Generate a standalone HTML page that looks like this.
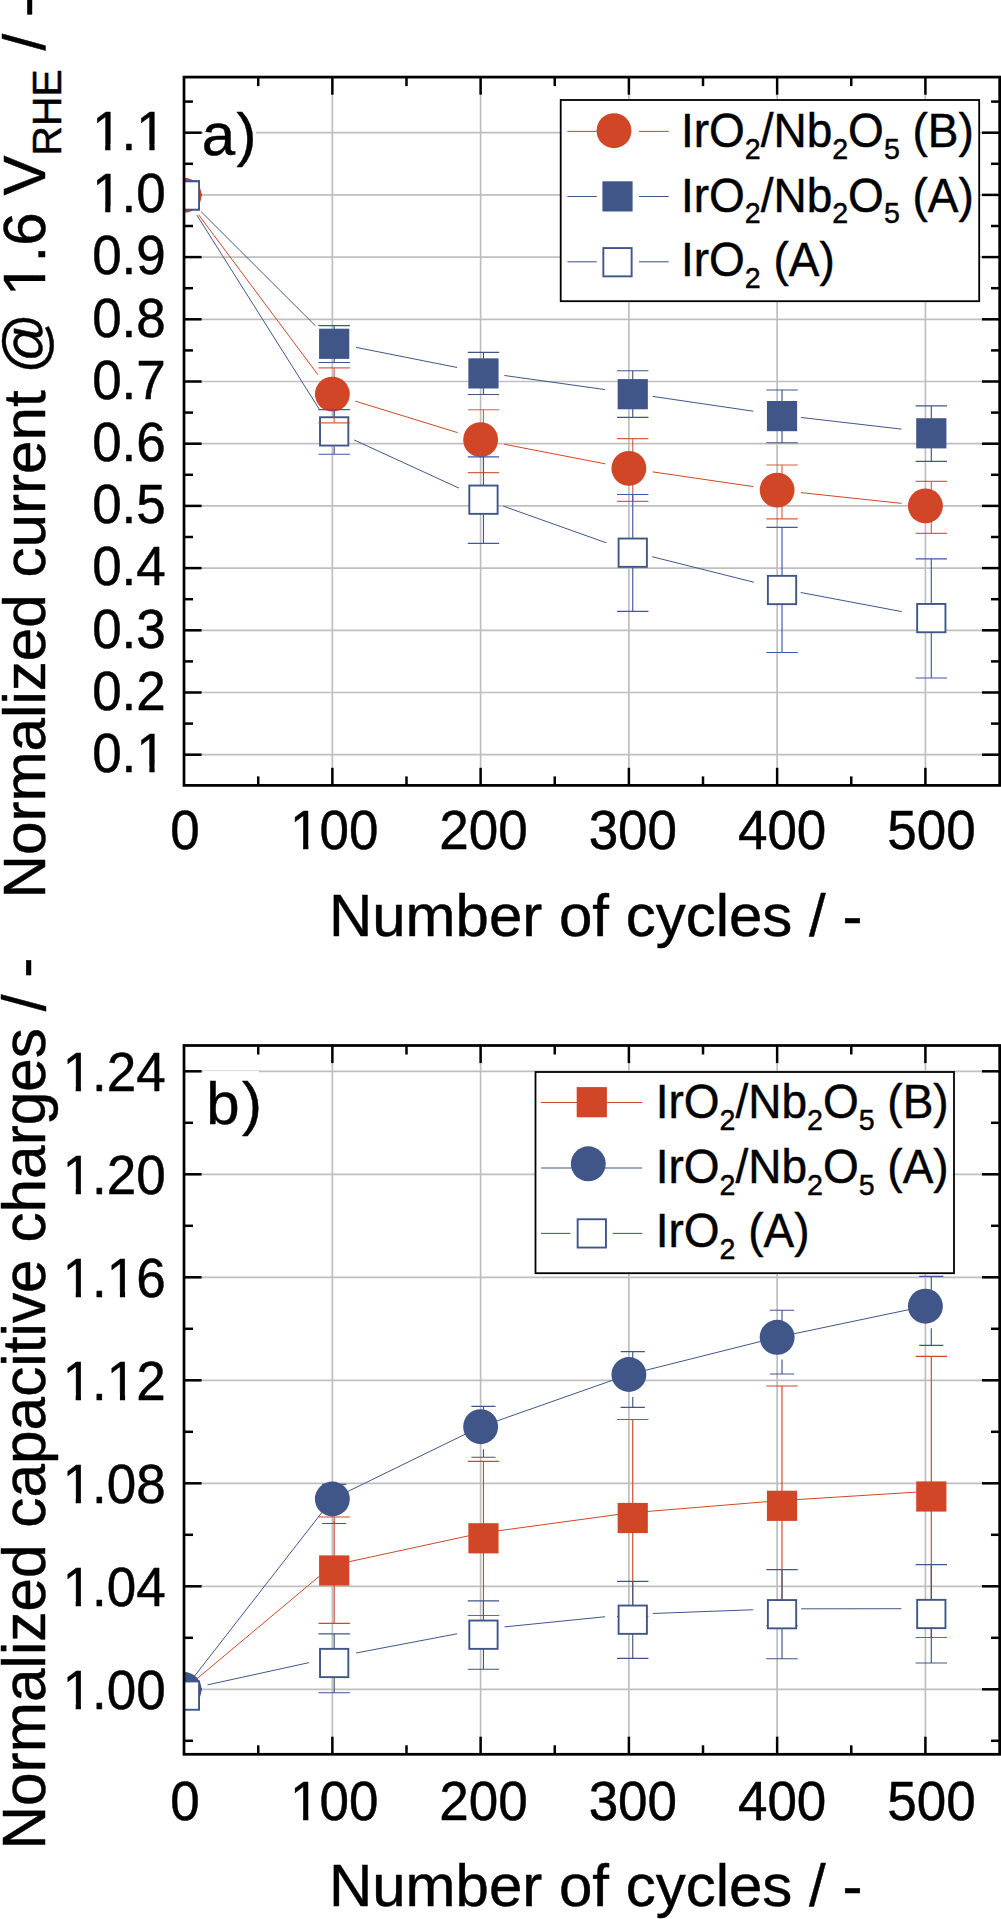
<!DOCTYPE html>
<html lang="en"><head><meta charset="utf-8"><title>Normalized current and capacitive charges vs. number of cycles</title>
<style>html,body{margin:0;padding:0;background:#fff}svg{display:block}text{font-family:'Liberation Sans', sans-serif;fill:#000;stroke:#000;stroke-width:0.45px;stroke-linejoin:round}</style></head><body>
<svg width="1001" height="1919" viewBox="0 0 1001 1919">
<rect width="1001" height="1919" fill="#fff"/>
<defs><clipPath id="ca"><rect x="184" y="77" width="817" height="708"/></clipPath><clipPath id="cb"><rect x="184" y="1045.5" width="817" height="708.3"/></clipPath><clipPath id="ct0"><path d="M-3000 -3000H3000V-5.66H-3000ZM-3000 -5.71H-26.86V100H-3000ZM-16.4 -5.71H-11.22V100H-16.4ZM-1.17 -5.71H3000V100H-1.17Z"/></clipPath><clipPath id="ct1"><path d="M-3000 -3000H3000V-5.66H-3000ZM-3000 -5.71H-71.04V100H-3000ZM-60.59 -5.71H-55.4V100H-60.59ZM-45.36 -5.71H3000V100H-45.36Z"/></clipPath><clipPath id="ct2"><path d="M-3000 -3000H3000V-5.66H-3000ZM-3000 -5.71H-71.04V100H-3000ZM-60.59 -5.71H-55.4V100H-60.59ZM-45.36 -5.71H-26.86V100H-45.36ZM-16.4 -5.71H-11.22V100H-16.4ZM-1.17 -5.71H3000V100H-1.17Z"/></clipPath><clipPath id="ct3"><path d="M-3000 -3000H3000V-5.66H-3000ZM-3000 -5.71H-41.58V100H-3000ZM-31.13 -5.71H-25.94V100H-31.13ZM-15.9 -5.71H3000V100H-15.9Z"/></clipPath><clipPath id="ct4"><path d="M-3000 -3000H3000V-6.2H-3000ZM-3000 -6.25H605.6V100H-3000ZM617.37 -6.25H623.19V100H617.37ZM634.48 -6.25H3000V100H634.48Z"/></clipPath><clipPath id="ct5"><path d="M-3000 -3000H3000V-5.66H-3000ZM-3000 -5.71H-100.53V100H-3000ZM-90.07 -5.71H-84.89V100H-90.07ZM-74.84 -5.71H3000V100H-74.84Z"/></clipPath><clipPath id="ct6"><path d="M-3000 -3000H3000V-5.66H-3000ZM-3000 -5.71H-100.53V100H-3000ZM-90.07 -5.71H-84.89V100H-90.07ZM-74.84 -5.71H3000V100H-74.84Z"/></clipPath><clipPath id="ct7"><path d="M-3000 -3000H3000V-5.66H-3000ZM-3000 -5.71H-100.53V100H-3000ZM-90.07 -5.71H-84.89V100H-90.07ZM-74.84 -5.71H3000V100H-74.84Z"/></clipPath><clipPath id="ct8"><path d="M-3000 -3000H3000V-5.66H-3000ZM-3000 -5.71H-100.53V100H-3000ZM-90.07 -5.71H-84.89V100H-90.07ZM-74.84 -5.71H-56.34V100H-74.84ZM-45.88 -5.71H-40.7V100H-45.88ZM-30.66 -5.71H3000V100H-30.66Z"/></clipPath><clipPath id="ct9"><path d="M-3000 -3000H3000V-5.66H-3000ZM-3000 -5.71H-100.53V100H-3000ZM-90.07 -5.71H-84.89V100H-90.07ZM-74.84 -5.71H-56.34V100H-74.84ZM-45.88 -5.71H-40.7V100H-45.88ZM-30.66 -5.71H3000V100H-30.66Z"/></clipPath><clipPath id="ct10"><path d="M-3000 -3000H3000V-5.66H-3000ZM-3000 -5.71H-100.53V100H-3000ZM-90.07 -5.71H-84.89V100H-90.07ZM-74.84 -5.71H3000V100H-74.84Z"/></clipPath><clipPath id="ct11"><path d="M-3000 -3000H3000V-5.66H-3000ZM-3000 -5.71H-100.53V100H-3000ZM-90.07 -5.71H-84.89V100H-90.07ZM-74.84 -5.71H3000V100H-74.84Z"/></clipPath><clipPath id="ct12"><path d="M-3000 -3000H3000V-5.66H-3000ZM-3000 -5.71H-41.58V100H-3000ZM-31.13 -5.71H-25.94V100H-31.13ZM-15.9 -5.71H3000V100H-15.9Z"/></clipPath></defs>
<g stroke="#bfbfbf" stroke-width="1.7" fill="none">
<line x1="184" y1="754.7" x2="999.7" y2="754.7"/>
<line x1="184" y1="692.5" x2="999.7" y2="692.5"/>
<line x1="184" y1="630.3" x2="999.7" y2="630.3"/>
<line x1="184" y1="568.1" x2="999.7" y2="568.1"/>
<line x1="184" y1="505.9" x2="999.7" y2="505.9"/>
<line x1="184" y1="443.7" x2="999.7" y2="443.7"/>
<line x1="184" y1="381.5" x2="999.7" y2="381.5"/>
<line x1="184" y1="319.3" x2="999.7" y2="319.3"/>
<line x1="184" y1="257.1" x2="999.7" y2="257.1"/>
<line x1="184" y1="194.9" x2="999.7" y2="194.9"/>
<line x1="184" y1="132.7" x2="999.7" y2="132.7"/>
<line x1="332.36" y1="77.1" x2="332.36" y2="785.4"/>
<line x1="480.62" y1="77.1" x2="480.62" y2="785.4"/>
<line x1="628.88" y1="77.1" x2="628.88" y2="785.4"/>
<line x1="777.14" y1="77.1" x2="777.14" y2="785.4"/>
<line x1="925.4" y1="77.1" x2="925.4" y2="785.4"/>
</g>
<rect x="203" y="105" width="53" height="67" fill="#fff"/>
<g stroke="#000" stroke-width="2.5" fill="none">
<line x1="184" y1="754.7" x2="201.6" y2="754.7"/>
<line x1="999.7" y1="754.7" x2="982" y2="754.7"/>
<line x1="184" y1="692.5" x2="201.6" y2="692.5"/>
<line x1="999.7" y1="692.5" x2="982" y2="692.5"/>
<line x1="184" y1="630.3" x2="201.6" y2="630.3"/>
<line x1="999.7" y1="630.3" x2="982" y2="630.3"/>
<line x1="184" y1="568.1" x2="201.6" y2="568.1"/>
<line x1="999.7" y1="568.1" x2="982" y2="568.1"/>
<line x1="184" y1="505.9" x2="201.6" y2="505.9"/>
<line x1="999.7" y1="505.9" x2="982" y2="505.9"/>
<line x1="184" y1="443.7" x2="201.6" y2="443.7"/>
<line x1="999.7" y1="443.7" x2="982" y2="443.7"/>
<line x1="184" y1="381.5" x2="201.6" y2="381.5"/>
<line x1="999.7" y1="381.5" x2="982" y2="381.5"/>
<line x1="184" y1="319.3" x2="201.6" y2="319.3"/>
<line x1="999.7" y1="319.3" x2="982" y2="319.3"/>
<line x1="184" y1="257.1" x2="201.6" y2="257.1"/>
<line x1="999.7" y1="257.1" x2="982" y2="257.1"/>
<line x1="184" y1="194.9" x2="201.6" y2="194.9"/>
<line x1="999.7" y1="194.9" x2="982" y2="194.9"/>
<line x1="184" y1="132.7" x2="201.6" y2="132.7"/>
<line x1="999.7" y1="132.7" x2="982" y2="132.7"/>
<line x1="184" y1="723.6" x2="193" y2="723.6"/>
<line x1="999.7" y1="723.6" x2="991" y2="723.6"/>
<line x1="184" y1="661.4" x2="193" y2="661.4"/>
<line x1="999.7" y1="661.4" x2="991" y2="661.4"/>
<line x1="184" y1="599.2" x2="193" y2="599.2"/>
<line x1="999.7" y1="599.2" x2="991" y2="599.2"/>
<line x1="184" y1="537" x2="193" y2="537"/>
<line x1="999.7" y1="537" x2="991" y2="537"/>
<line x1="184" y1="474.8" x2="193" y2="474.8"/>
<line x1="999.7" y1="474.8" x2="991" y2="474.8"/>
<line x1="184" y1="412.6" x2="193" y2="412.6"/>
<line x1="999.7" y1="412.6" x2="991" y2="412.6"/>
<line x1="184" y1="350.4" x2="193" y2="350.4"/>
<line x1="999.7" y1="350.4" x2="991" y2="350.4"/>
<line x1="184" y1="288.2" x2="193" y2="288.2"/>
<line x1="999.7" y1="288.2" x2="991" y2="288.2"/>
<line x1="184" y1="226" x2="193" y2="226"/>
<line x1="999.7" y1="226" x2="991" y2="226"/>
<line x1="184" y1="163.8" x2="193" y2="163.8"/>
<line x1="999.7" y1="163.8" x2="991" y2="163.8"/>
<line x1="184" y1="101.6" x2="193" y2="101.6"/>
<line x1="999.7" y1="101.6" x2="991" y2="101.6"/>
<line x1="332.36" y1="77.1" x2="332.36" y2="94.7"/>
<line x1="332.36" y1="785.4" x2="332.36" y2="767.8"/>
<line x1="480.62" y1="77.1" x2="480.62" y2="94.7"/>
<line x1="480.62" y1="785.4" x2="480.62" y2="767.8"/>
<line x1="628.88" y1="77.1" x2="628.88" y2="94.7"/>
<line x1="628.88" y1="785.4" x2="628.88" y2="767.8"/>
<line x1="777.14" y1="77.1" x2="777.14" y2="94.7"/>
<line x1="777.14" y1="785.4" x2="777.14" y2="767.8"/>
<line x1="925.4" y1="77.1" x2="925.4" y2="94.7"/>
<line x1="925.4" y1="785.4" x2="925.4" y2="767.8"/>
<line x1="258.23" y1="77.1" x2="258.23" y2="86.1"/>
<line x1="258.23" y1="785.4" x2="258.23" y2="776.4"/>
<line x1="406.49" y1="77.1" x2="406.49" y2="86.1"/>
<line x1="406.49" y1="785.4" x2="406.49" y2="776.4"/>
<line x1="554.75" y1="77.1" x2="554.75" y2="86.1"/>
<line x1="554.75" y1="785.4" x2="554.75" y2="776.4"/>
<line x1="703.01" y1="77.1" x2="703.01" y2="86.1"/>
<line x1="703.01" y1="785.4" x2="703.01" y2="776.4"/>
<line x1="851.27" y1="77.1" x2="851.27" y2="86.1"/>
<line x1="851.27" y1="785.4" x2="851.27" y2="776.4"/>
</g>
<g clip-path="url(#ca)">
<g stroke="#d14627" stroke-width="1.0" fill="none">
<line x1="198.45" y1="214.54" x2="318.01" y2="374.86"/>
<line x1="355.3" y1="401.16" x2="457.68" y2="432.64"/>
<line x1="504.18" y1="444.26" x2="605.32" y2="463.84"/>
<line x1="652.63" y1="471.88" x2="753.39" y2="486.62"/>
<line x1="801" y1="492.64" x2="901.54" y2="503.36"/>
</g>
<circle cx="184.1" cy="195.3" r="17.45" fill="#d14627"/>
<circle cx="332.36" cy="394.1" r="17.45" fill="#d14627"/>
<circle cx="480.62" cy="439.7" r="17.45" fill="#d14627"/>
<circle cx="628.88" cy="468.4" r="17.45" fill="#d14627"/>
<circle cx="777.14" cy="490.1" r="17.45" fill="#d14627"/>
<circle cx="925.4" cy="505.9" r="17.45" fill="#d14627"/>
<g stroke="#405688" stroke-width="1.15" fill="none">
<path d="M318.48 325.6H349.88M318.48 362.5H349.88M334.18 325.6V362.5"/>
<path d="M467.76 352.4H499.16M467.76 394.5H499.16M483.46 352.4V394.5"/>
<path d="M617.04 370.7H648.44M617.04 417.4H648.44M632.74 370.7V417.4"/>
<path d="M766.32 390H797.72M766.32 442.7H797.72M782.02 390V442.7"/>
<path d="M915.6 405.9H947M915.6 461.4H947M931.3 405.9V461.4"/>
</g>
<g stroke="#405688" stroke-width="1.0" fill="none">
<line x1="201.08" y1="211.61" x2="315.38" y2="325.71"/>
<line x1="355.9" y1="347.35" x2="457.08" y2="367.48"/>
<line x1="504.39" y1="375.49" x2="605.11" y2="389.58"/>
<line x1="652.62" y1="396.39" x2="753.4" y2="411.23"/>
<line x1="800.98" y1="417.48" x2="901.56" y2="429.11"/>
</g>
<rect x="169.8" y="180.2" width="30.2" height="30.2" fill="#405688"/>
<rect x="319.08" y="328.7" width="30.2" height="30.2" fill="#405688"/>
<rect x="468.36" y="358.3" width="30.2" height="30.2" fill="#405688"/>
<rect x="617.64" y="379.1" width="30.2" height="30.2" fill="#405688"/>
<rect x="766.92" y="401" width="30.2" height="30.2" fill="#405688"/>
<rect x="916.2" y="418.2" width="30.2" height="30.2" fill="#405688"/>
<g stroke="#405688" stroke-width="1.0" fill="none">
<line x1="196.9" y1="215.16" x2="319.56" y2="409.68"/>
<line x1="354.17" y1="439.99" x2="458.81" y2="488.04"/>
<line x1="503.23" y1="506.11" x2="606.27" y2="542.82"/>
<line x1="652.16" y1="556.71" x2="753.86" y2="582.22"/>
<line x1="800.72" y1="592.51" x2="901.82" y2="611.61"/>
</g>
<rect x="170.75" y="181.35" width="28.3" height="28.3" fill="#fff" stroke="#405688" stroke-width="1.9"/>
<rect x="320.03" y="417.25" width="28.3" height="28.3" fill="#fff" stroke="#405688" stroke-width="1.9"/>
<rect x="469.31" y="485.55" width="28.3" height="28.3" fill="#fff" stroke="#405688" stroke-width="1.9"/>
<rect x="618.59" y="538.55" width="28.3" height="28.3" fill="#fff" stroke="#405688" stroke-width="1.9"/>
<rect x="767.87" y="575.85" width="28.3" height="28.3" fill="#fff" stroke="#405688" stroke-width="1.9"/>
<rect x="917.15" y="603.95" width="28.3" height="28.3" fill="#fff" stroke="#405688" stroke-width="1.9"/>
<g opacity="0.85" stroke="#d14627" stroke-width="1.15" fill="none">
<path d="M318.48 367.9H349.88M318.48 422.9H349.88M334.18 367.9V377.35M334.18 410.85V422.9"/>
<path d="M467.76 409.7H499.16M467.76 472.6H499.16M483.46 409.7V423.08M483.46 456.32V472.6"/>
<path d="M617.04 438.6H648.44M617.04 501.4H648.44M632.74 438.6V451.98M632.74 484.82V501.4"/>
<path d="M766.32 465H797.72M766.32 518.9H797.72M782.02 465V473.95M782.02 506.25V518.9"/>
<path d="M915.6 481.3H947M915.6 533.4H947M931.3 481.3V490.08M931.3 521.72V533.4"/>
</g>
<g stroke="#3e57aa" stroke-width="1.15" fill="none">
<path d="M318.48 409.6H349.88M318.48 454.2H349.88M334.18 409.6V417.3M334.18 446.5V454.2"/>
<path d="M467.76 456.8H499.16M467.76 543.3H499.16M483.46 456.8V485.45M483.46 514.65V543.3"/>
<path d="M617.04 494.5H648.44M617.04 611.3H648.44M632.74 494.5V538.3M632.74 567.5V611.3"/>
<path d="M766.32 527.3H797.72M766.32 652.5H797.72M782.02 527.3V575.3M782.02 604.5V652.5"/>
<path d="M915.6 558.8H947M915.6 678H947M931.3 558.8V603.8M931.3 633V678"/>
</g>
</g>
<rect x="560.7" y="100" width="418.5" height="201.2" fill="#fff" stroke="#000" stroke-width="1.8"/>
<g stroke="#d14627" stroke-width="1.05">
<line x1="567.4" y1="131.4" x2="596.75" y2="131.4"/>
<line x1="639.05" y1="131.4" x2="668.7" y2="131.4"/>
</g>
<circle cx="614" cy="130.7" r="17.45" fill="#d14627"/>
<text transform="translate(680.9 147.2) scale(1 1.04)" font-size="46">IrO<tspan font-size="28.6" dy="11.5">2</tspan><tspan dy="-11.5">/Nb</tspan><tspan font-size="28.6" dy="11.5">2</tspan><tspan dy="-11.5">O</tspan><tspan font-size="28.6" dy="11.5">5</tspan><tspan dy="-11.5"> (B)</tspan></text>
<g stroke="#405688" stroke-width="1.05">
<line x1="567.4" y1="196.5" x2="596.75" y2="196.5"/>
<line x1="639.05" y1="196.5" x2="668.7" y2="196.5"/>
</g>
<rect x="602.4" y="181.3" width="30.2" height="30.2" fill="#405688"/>
<text transform="translate(680.9 211.5) scale(1 1.04)" font-size="46">IrO<tspan font-size="28.6" dy="11.5">2</tspan><tspan dy="-11.5">/Nb</tspan><tspan font-size="28.6" dy="11.5">2</tspan><tspan dy="-11.5">O</tspan><tspan font-size="28.6" dy="11.5">5</tspan><tspan dy="-11.5"> (A)</tspan></text>
<g stroke="#405688" stroke-width="1.05">
<line x1="567.4" y1="261.8" x2="596.75" y2="261.8"/>
<line x1="639.05" y1="261.8" x2="668.7" y2="261.8"/>
</g>
<rect x="603.35" y="248.05" width="28.3" height="28.3" fill="#fff" stroke="#405688" stroke-width="1.9"/>
<text transform="translate(680.9 275.8) scale(1 1.04)" font-size="46">IrO<tspan font-size="28.6" dy="11.5">2</tspan><tspan dy="-11.5"> (A)</tspan></text>
<rect x="184" y="77.1" width="815.7" height="708.3" fill="none" stroke="#000" stroke-width="2.75"/>
<g font-size="53" text-anchor="end">
<text id="t0" clip-path="url(#ct0)" transform="translate(165.8 772) scale(1 1.04)">0.1</text>
<text transform="translate(165.8 709.8) scale(1 1.04)">0.2</text>
<text transform="translate(165.8 647.6) scale(1 1.04)">0.3</text>
<text transform="translate(165.8 585.4) scale(1 1.04)">0.4</text>
<text transform="translate(165.8 523.2) scale(1 1.04)">0.5</text>
<text transform="translate(165.8 461) scale(1 1.04)">0.6</text>
<text transform="translate(165.8 398.8) scale(1 1.04)">0.7</text>
<text transform="translate(165.8 336.6) scale(1 1.04)">0.8</text>
<text transform="translate(165.8 274.4) scale(1 1.04)">0.9</text>
<text id="t1" clip-path="url(#ct1)" transform="translate(165.8 212.2) scale(1 1.04)">1.0</text>
<text id="t2" clip-path="url(#ct2)" transform="translate(165.8 150) scale(1 1.04)">1.1</text>
</g>
<g font-size="53" text-anchor="middle">
<text transform="translate(185 848.8) scale(1 1.04)">0</text>
<text id="t3" clip-path="url(#ct3)" transform="translate(334.28 848.8) scale(1 1.04)">100</text>
<text transform="translate(483.56 848.8) scale(1 1.04)">200</text>
<text transform="translate(632.84 848.8) scale(1 1.04)">300</text>
<text transform="translate(782.12 848.8) scale(1 1.04)">400</text>
<text transform="translate(931.4 848.8) scale(1 1.04)">500</text>
</g>
<text x="328.9" y="935.5" font-size="60">Number of cycles / -</text>
<text x="201.8" y="155.3" font-size="60">a<tspan dx="1.2">)</tspan></text>
<text id="t4" clip-path="url(#ct4)" transform="translate(45.1 898.4) rotate(-90)" font-size="60.15">Normalized current @ 1.6 V<tspan font-size="40.8" dy="16">RHE</tspan><tspan dy="-16" dx="2.2"> / -</tspan></text>
<g stroke="#bfbfbf" stroke-width="1.7" fill="none">
<line x1="184" y1="1689.3" x2="999.7" y2="1689.3"/>
<line x1="184" y1="1586.3" x2="999.7" y2="1586.3"/>
<line x1="184" y1="1483.3" x2="999.7" y2="1483.3"/>
<line x1="184" y1="1380.3" x2="999.7" y2="1380.3"/>
<line x1="184" y1="1277.3" x2="999.7" y2="1277.3"/>
<line x1="184" y1="1174.3" x2="999.7" y2="1174.3"/>
<line x1="184" y1="1071.3" x2="999.7" y2="1071.3"/>
<line x1="332.36" y1="1045.5" x2="332.36" y2="1754.3"/>
<line x1="480.62" y1="1045.5" x2="480.62" y2="1754.3"/>
<line x1="628.88" y1="1045.5" x2="628.88" y2="1754.3"/>
<line x1="777.14" y1="1045.5" x2="777.14" y2="1754.3"/>
<line x1="925.4" y1="1045.5" x2="925.4" y2="1754.3"/>
</g>
<rect x="203" y="1071.1" width="56" height="68.9" fill="#fff"/>
<g stroke="#000" stroke-width="2.5" fill="none">
<line x1="184" y1="1689.3" x2="201.6" y2="1689.3"/>
<line x1="999.7" y1="1689.3" x2="982" y2="1689.3"/>
<line x1="184" y1="1586.3" x2="201.6" y2="1586.3"/>
<line x1="999.7" y1="1586.3" x2="982" y2="1586.3"/>
<line x1="184" y1="1483.3" x2="201.6" y2="1483.3"/>
<line x1="999.7" y1="1483.3" x2="982" y2="1483.3"/>
<line x1="184" y1="1380.3" x2="201.6" y2="1380.3"/>
<line x1="999.7" y1="1380.3" x2="982" y2="1380.3"/>
<line x1="184" y1="1277.3" x2="201.6" y2="1277.3"/>
<line x1="999.7" y1="1277.3" x2="982" y2="1277.3"/>
<line x1="184" y1="1174.3" x2="201.6" y2="1174.3"/>
<line x1="999.7" y1="1174.3" x2="982" y2="1174.3"/>
<line x1="184" y1="1071.3" x2="201.6" y2="1071.3"/>
<line x1="999.7" y1="1071.3" x2="982" y2="1071.3"/>
<line x1="184" y1="1740.8" x2="193" y2="1740.8"/>
<line x1="999.7" y1="1740.8" x2="991" y2="1740.8"/>
<line x1="184" y1="1637.8" x2="193" y2="1637.8"/>
<line x1="999.7" y1="1637.8" x2="991" y2="1637.8"/>
<line x1="184" y1="1534.8" x2="193" y2="1534.8"/>
<line x1="999.7" y1="1534.8" x2="991" y2="1534.8"/>
<line x1="184" y1="1431.8" x2="193" y2="1431.8"/>
<line x1="999.7" y1="1431.8" x2="991" y2="1431.8"/>
<line x1="184" y1="1328.8" x2="193" y2="1328.8"/>
<line x1="999.7" y1="1328.8" x2="991" y2="1328.8"/>
<line x1="184" y1="1225.8" x2="193" y2="1225.8"/>
<line x1="999.7" y1="1225.8" x2="991" y2="1225.8"/>
<line x1="184" y1="1122.8" x2="193" y2="1122.8"/>
<line x1="999.7" y1="1122.8" x2="991" y2="1122.8"/>
<line x1="332.36" y1="1045.5" x2="332.36" y2="1063.1"/>
<line x1="332.36" y1="1754.3" x2="332.36" y2="1736.7"/>
<line x1="480.62" y1="1045.5" x2="480.62" y2="1063.1"/>
<line x1="480.62" y1="1754.3" x2="480.62" y2="1736.7"/>
<line x1="628.88" y1="1045.5" x2="628.88" y2="1063.1"/>
<line x1="628.88" y1="1754.3" x2="628.88" y2="1736.7"/>
<line x1="777.14" y1="1045.5" x2="777.14" y2="1063.1"/>
<line x1="777.14" y1="1754.3" x2="777.14" y2="1736.7"/>
<line x1="925.4" y1="1045.5" x2="925.4" y2="1063.1"/>
<line x1="925.4" y1="1754.3" x2="925.4" y2="1736.7"/>
<line x1="258.23" y1="1045.5" x2="258.23" y2="1054.5"/>
<line x1="258.23" y1="1754.3" x2="258.23" y2="1745.3"/>
<line x1="406.49" y1="1045.5" x2="406.49" y2="1054.5"/>
<line x1="406.49" y1="1754.3" x2="406.49" y2="1745.3"/>
<line x1="554.75" y1="1045.5" x2="554.75" y2="1054.5"/>
<line x1="554.75" y1="1754.3" x2="554.75" y2="1745.3"/>
<line x1="703.01" y1="1045.5" x2="703.01" y2="1054.5"/>
<line x1="703.01" y1="1754.3" x2="703.01" y2="1745.3"/>
<line x1="851.27" y1="1045.5" x2="851.27" y2="1054.5"/>
<line x1="851.27" y1="1754.3" x2="851.27" y2="1745.3"/>
</g>
<g clip-path="url(#cb)">
<g stroke="#405688" stroke-width="1.15" fill="none">
<path d="M322.08 1484.3H346.28M322.08 1523.5H346.28M334.18 1484.3V1486.4M334.18 1521.4V1523.5"/>
<path d="M471.36 1406.3H495.56M471.36 1457.2H495.56M483.46 1406.3V1414.25M483.46 1449.25V1457.2"/>
<path d="M620.64 1351.6H644.84M620.64 1407.3H644.84M632.74 1351.6V1361.95M632.74 1396.95V1407.3"/>
<path d="M769.92 1310.2H794.12M769.92 1374H794.12M782.02 1310.2V1324.6M782.02 1359.6V1374"/>
<path d="M919.2 1276.4H943.4M919.2 1345.3H943.4M931.3 1276.4V1293.35M931.3 1328.35V1345.3"/>
</g>
<g stroke="#d14627" stroke-width="1.15" fill="none">
<path d="M318.48 1517H349.88M318.48 1623.3H349.88M334.18 1517V1623.3"/>
<path d="M467.76 1461.3H499.16M467.76 1615.5H499.16M483.46 1461.3V1615.5"/>
<path d="M617.04 1419.5H648.44M617.04 1616.5H648.44M632.74 1419.5V1616.5"/>
<path d="M766.32 1386H797.72M766.32 1625.6H797.72M782.02 1386V1625.6"/>
<path d="M915.6 1356.3H947M915.6 1637.5H947M931.3 1356.3V1637.5"/>
</g>
<g stroke="#d14627" stroke-width="1.0" fill="none">
<line x1="184.1" y1="1689.5" x2="332.36" y2="1565.32"/>
<line x1="332.36" y1="1565.32" x2="480.62" y2="1533.22"/>
<line x1="480.62" y1="1533.22" x2="628.88" y2="1512.99"/>
<line x1="628.88" y1="1512.99" x2="777.14" y2="1500.83"/>
<line x1="777.14" y1="1500.83" x2="925.4" y2="1491.56"/>
</g>
<rect x="319.08" y="1555.4" width="30.2" height="30.2" fill="#d14627"/>
<rect x="468.36" y="1523.2" width="30.2" height="30.2" fill="#d14627"/>
<rect x="617.64" y="1502.9" width="30.2" height="30.2" fill="#d14627"/>
<rect x="766.92" y="1490.7" width="30.2" height="30.2" fill="#d14627"/>
<rect x="916.2" y="1481.4" width="30.2" height="30.2" fill="#d14627"/>
<g stroke="#405688" stroke-width="1.0" fill="none">
<line x1="184.1" y1="1689.5" x2="332.36" y2="1499"/>
<line x1="332.36" y1="1499" x2="480.62" y2="1426.7"/>
<line x1="480.62" y1="1426.7" x2="628.88" y2="1374.5"/>
<line x1="628.88" y1="1374.5" x2="777.14" y2="1337.3"/>
<line x1="777.14" y1="1337.3" x2="925.4" y2="1306.2"/>
</g>
<circle cx="184.1" cy="1689.5" r="17.45" fill="#405688"/>
<circle cx="332.36" cy="1499" r="17.45" fill="#405688"/>
<circle cx="480.62" cy="1426.7" r="17.45" fill="#405688"/>
<circle cx="628.88" cy="1374.5" r="17.45" fill="#405688"/>
<circle cx="777.14" cy="1337.3" r="17.45" fill="#405688"/>
<circle cx="925.4" cy="1306.2" r="17.45" fill="#405688"/>
<g stroke="#405688" stroke-width="1.15" fill="none">
<path d="M318.48 1633.8H349.88M318.48 1692.7H349.88M334.18 1633.8V1692.7"/>
<path d="M467.76 1600.8H499.16M467.76 1669.2H499.16M483.46 1600.8V1669.2"/>
<path d="M617.04 1581.4H648.44M617.04 1658.4H648.44M632.74 1581.4V1658.4"/>
<path d="M766.32 1569.6H797.72M766.32 1658.7H797.72M782.02 1569.6V1658.7"/>
<path d="M915.6 1564.6H947M915.6 1663H947M931.3 1564.6V1663"/>
</g>
<g stroke="#405688" stroke-width="1.0" fill="none">
<line x1="207.54" y1="1684.87" x2="308.92" y2="1662.65"/>
<line x1="355.94" y1="1653.03" x2="457.04" y2="1633.79"/>
<line x1="504.5" y1="1626.9" x2="605" y2="1616.76"/>
<line x1="652.86" y1="1613.47" x2="753.16" y2="1609.76"/>
<line x1="801.14" y1="1608.84" x2="901.4" y2="1608.71"/>
</g>
<rect x="170.75" y="1681.45" width="28.3" height="28.3" fill="#fff" stroke="#405688" stroke-width="1.9"/>
<rect x="320.03" y="1648.85" width="28.3" height="28.3" fill="#fff" stroke="#405688" stroke-width="1.9"/>
<rect x="469.31" y="1620.55" width="28.3" height="28.3" fill="#fff" stroke="#405688" stroke-width="1.9"/>
<rect x="618.59" y="1605.55" width="28.3" height="28.3" fill="#fff" stroke="#405688" stroke-width="1.9"/>
<rect x="767.87" y="1600.05" width="28.3" height="28.3" fill="#fff" stroke="#405688" stroke-width="1.9"/>
<rect x="917.15" y="1599.85" width="28.3" height="28.3" fill="#fff" stroke="#405688" stroke-width="1.9"/>
</g>
<rect x="535.5" y="1072" width="418.5" height="201.2" fill="#fff" stroke="#000" stroke-width="1.8"/>
<g stroke="#d14627" stroke-width="1.05">
<line x1="541" y1="1102.4" x2="642.3" y2="1102.4"/>
</g>
<rect x="576.7" y="1087.1" width="30.2" height="30.2" fill="#d14627"/>
<text transform="translate(655.7 1118.4) scale(1 1.04)" font-size="46">IrO<tspan font-size="28.6" dy="11.5">2</tspan><tspan dy="-11.5">/Nb</tspan><tspan font-size="28.6" dy="11.5">2</tspan><tspan dy="-11.5">O</tspan><tspan font-size="28.6" dy="11.5">5</tspan><tspan dy="-11.5"> (B)</tspan></text>
<g stroke="#405688" stroke-width="1.05">
<line x1="541" y1="1167.9" x2="642.3" y2="1167.9"/>
</g>
<circle cx="588.3" cy="1163.8" r="17.45" fill="#405688"/>
<text transform="translate(655.7 1182.7) scale(1 1.04)" font-size="46">IrO<tspan font-size="28.6" dy="11.5">2</tspan><tspan dy="-11.5">/Nb</tspan><tspan font-size="28.6" dy="11.5">2</tspan><tspan dy="-11.5">O</tspan><tspan font-size="28.6" dy="11.5">5</tspan><tspan dy="-11.5"> (A)</tspan></text>
<g stroke="#405688" stroke-width="1.05">
<line x1="541" y1="1233.4" x2="570.35" y2="1233.4"/>
<line x1="612.65" y1="1233.4" x2="642.3" y2="1233.4"/>
</g>
<rect x="577.65" y="1219.25" width="28.3" height="28.3" fill="#fff" stroke="#405688" stroke-width="1.9"/>
<text transform="translate(655.7 1247) scale(1 1.04)" font-size="46">IrO<tspan font-size="28.6" dy="11.5">2</tspan><tspan dy="-11.5"> (A)</tspan></text>
<rect x="184" y="1045.5" width="815.7" height="708.8" fill="none" stroke="#000" stroke-width="2.75"/>
<g font-size="53" text-anchor="end">
<text id="t5" clip-path="url(#ct5)" transform="translate(165.8 1708.6) scale(1 1.04)">1.00</text>
<text id="t6" clip-path="url(#ct6)" transform="translate(165.8 1605.6) scale(1 1.04)">1.04</text>
<text id="t7" clip-path="url(#ct7)" transform="translate(165.8 1502.6) scale(1 1.04)">1.08</text>
<text id="t8" clip-path="url(#ct8)" transform="translate(165.8 1399.6) scale(1 1.04)">1.12</text>
<text id="t9" clip-path="url(#ct9)" transform="translate(165.8 1296.6) scale(1 1.04)">1.16</text>
<text id="t10" clip-path="url(#ct10)" transform="translate(165.8 1193.6) scale(1 1.04)">1.20</text>
<text id="t11" clip-path="url(#ct11)" transform="translate(165.8 1090.6) scale(1 1.04)">1.24</text>
</g>
<g font-size="53" text-anchor="middle">
<text transform="translate(185 1820.3) scale(1 1.04)">0</text>
<text id="t12" clip-path="url(#ct12)" transform="translate(334.28 1820.3) scale(1 1.04)">100</text>
<text transform="translate(483.56 1820.3) scale(1 1.04)">200</text>
<text transform="translate(632.84 1820.3) scale(1 1.04)">300</text>
<text transform="translate(782.12 1820.3) scale(1 1.04)">400</text>
<text transform="translate(931.4 1820.3) scale(1 1.04)">500</text>
</g>
<text x="328.9" y="1906.3" font-size="60">Number of cycles / -</text>
<text x="206.3" y="1124.4" font-size="60">b<tspan dx="2.2">)</tspan></text>
<text transform="translate(45.1 1849.5) rotate(-90)" font-size="60.34">Normalized capacitive charges / -</text>
</svg></body></html>
